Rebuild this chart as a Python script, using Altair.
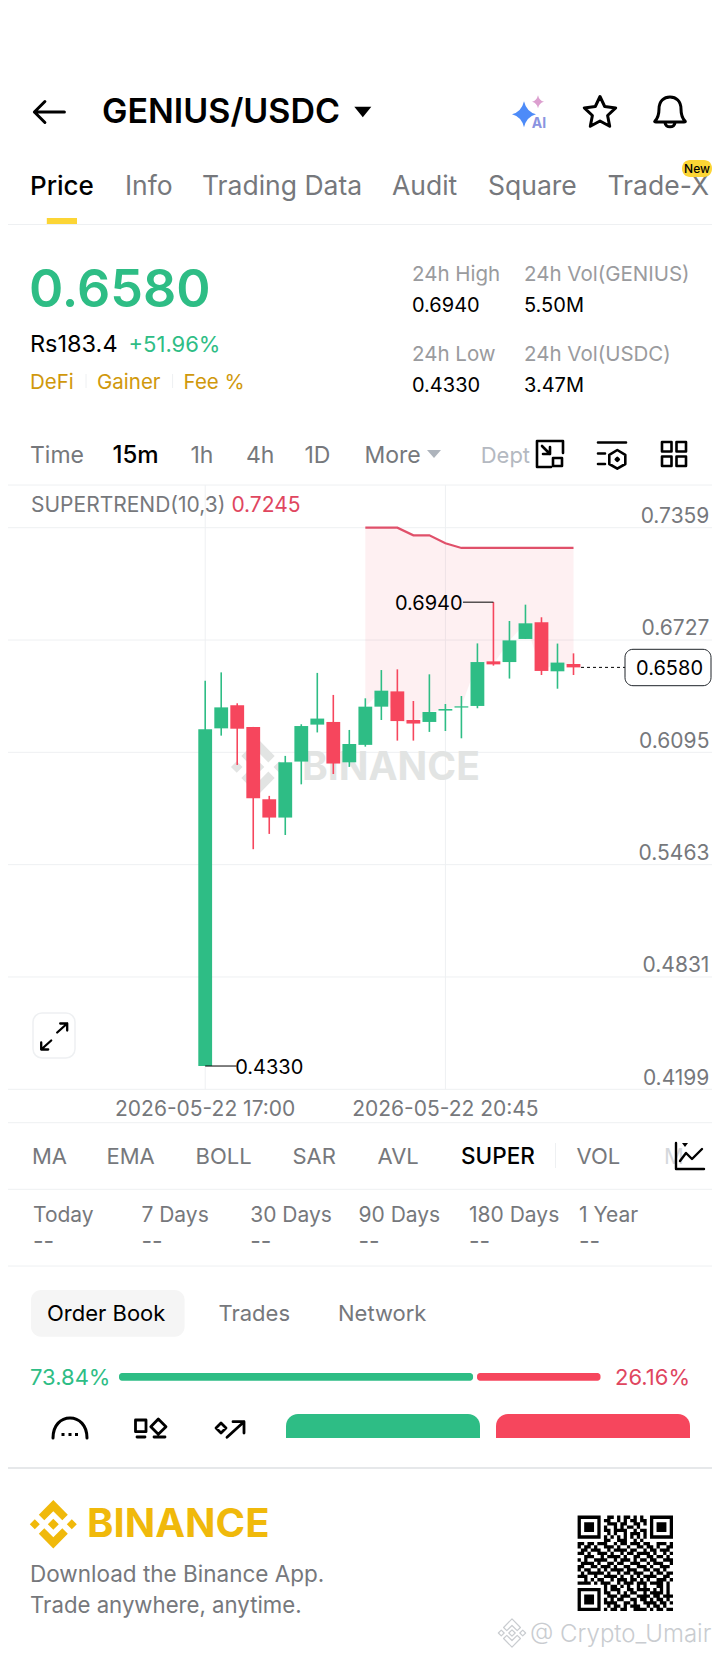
import altair as alt
import pandas as pd

# ---------- chart values ----------
open_ = [.4330,.6230,.6360,.6238,.5831,.5728,.6043,.6251,.6266,.6039,.6137,.6352,.6438,.6277,.6266,.6330,.6347,.6356,.6607,.6603,.6733,.6827,.6551,.6592]
high  = [.6498,.6545,.6371,.6238,.5850,.6075,.6253,.6542,.6418,.6221,.6399,.6558,.6562,.6384,.6534,.6367,.6412,.6708,.6940,.6834,.6926,.6855,.6707,.6652]
low   = [.4330,.6189,.6024,.5550,.5636,.5630,.5915,.6207,.5973,.6013,.6127,.6277,.6161,.6161,.6210,.6215,.6174,.6343,.6583,.6510,.6733,.6530,.6453,.6530]
close = [.6225,.6348,.6228,.5836,.5728,.6039,.6243,.6285,.6032,.6142,.6352,.6442,.6271,.6257,.6322,.6339,.6354,.6603,.6590,.6725,.6821,.6553,.6600,.6573]
supertrend = [.7359,.7359,.7359,.7316,.7316,.7271,.7245,.7245,.7245,.7245,.7245,.7245,.7245,.7245]
st_start = 10
price_ticks = [.7359,.6727,.6095,.5463,.4831,.4199]
high_label, low_label, last_label = 0.6940, 0.4330, "0.6580"
times = pd.date_range("2026-05-22 17:00", periods=24, freq="15min")
dated_candles = [0, 15]

tabs = ["Price","Info","Trading Data","Audit","Square","Trade-X"]
intervals = ["Time","15m","1h","4h","1D","More"]
indicators = ["MA","EMA","BOLL","SAR","AVL","SUPER","VOL"]
periods = ["Today","7 Days","30 Days","90 Days","180 Days","1 Year"]
book_tabs = ["Order Book","Trades","Network"]
buy_pct, sell_pct = 73.84, 26.16

qr_rows = [
"11111110011010110101001111111","10000010110010101101101000001","10111010011101100110101011101",
"10111010100101011010001011101","10111010110111100101101011101","10000010010100101110101000001",
"11111110101010101010101111111","00000000110011100101000000000","11011011100101101110110011101",
"10110100111010010011011010011","01101110010111101100101101110","11010011101001011011110100101",
"00111001011110100110011011010","10100111100101110101101100111","01111010011011001110010111001",
"11001101110100110011101001110","10110010101111011100110110100","01011111010010110111001011011",
"11100100111101001010111100110","00101011001011101101010011101","11110101110010111011101111010",
"00000000101101010010100011010","11111110101110011011110101010","10000010110010101100101111010",
"10111010011101110011110110111","10111010101011001101101011010","10111010111100110100111101101",
"10000010010110101110010110100","11111110101101100111101011011"]

# ---------- styles ----------
FONT = "Inter"
GREEN, RED = "#2ebd85", "#f6465d"
GREY, LIGHT, LINE = "#76787c", "#9a9b9e", "#eef0f2"
M = 8
W, H = 704, 1642

df = pd.DataFrame({"t": times, "open": open_, "high": high, "low": low, "close": close})
df["dir"] = ["up" if c >= o else "down" for o, c in zip(open_, close)]
st = df.iloc[st_start:].copy()
st["st"] = supertrend

xs = alt.Scale(domain=[times[0].isoformat(), times[-1].isoformat()], range=[205.2 - M, 573.5 - M])
ys = alt.Scale(domain=[.4199, .7359], range=[1089.3 - M, 527.7 - M], zero=False, nice=False)
cs = alt.Color("dir:N", scale=alt.Scale(domain=["up", "down"], range=[GREEN, RED]), legend=None)

layers = []
ONE = pd.DataFrame({"a": [0]})

def text(s, x, y, size=20, color="#000000", weight=400, align="left", opacity=1, font=FONT):
    layers.append(alt.Chart(ONE).mark_text(
        font=font, fontSize=size, color=color, fontWeight=weight, align=align,
        baseline="alphabetic", opacity=opacity
    ).encode(x=alt.value(x - M), y=alt.value(y - M), text=alt.value(s)))

def rect(x1, y1, x2, y2, fill, stroke=None, radius=0, top_only=False, sw=1):
    kw = {"fill": fill}
    if stroke:
        kw.update(stroke=stroke, strokeWidth=sw)
    if top_only:
        kw.update(cornerRadiusTopLeft=radius, cornerRadiusTopRight=radius)
    elif radius:
        kw.update(cornerRadius=radius)
    layers.append(alt.Chart(ONE).mark_rect(**kw).encode(
        x=alt.value(x1 - M), x2=alt.value(x2 - M), y=alt.value(y1 - M), y2=alt.value(y2 - M)))

def hline(y, color=LINE, sw=1, x1=M, x2=M + W):
    layers.append(alt.Chart(ONE).mark_rule(color=color, strokeWidth=sw).encode(
        x=alt.value(x1 - M), x2=alt.value(x2 - M), y=alt.value(y - M)))

def icon(path, cx, cy, fill=None, stroke=None, sw=2.5, scale=1.0):
    kw = dict(shape=path, size=(2 * scale) ** 2, opacity=1)
    if fill:
        kw.update(fill=fill, filled=True)
    else:
        kw.update(filled=False, fill="transparent")
    kw.update(stroke=stroke if stroke else "transparent", strokeWidth=sw if stroke else 0,
              strokeJoin="round", strokeCap="round")
    layers.append(alt.Chart(ONE).mark_point(**kw).encode(
        x=alt.value(cx - M), y=alt.value(cy - M)))

LOGO = ("M0 -24.3L14.5 -9.5L9 -4L0 -13L-9 -4L-14.5 -9.5Z"
        "M0 24.3L14.5 9.5L9 4L0 13L-9 4L-14.5 9.5Z"
        "M0 -5.5L5.5 0L0 5.5L-5.5 0Z"
        "M-18.5 -5L-13.5 0L-18.5 5L-23.5 0Z M18.5 -5L23.5 0L18.5 5L13.5 0Z")

# ---------- UI lines behind everything ----------
hline(224.5); hline(485); hline(1122.7); hline(1189.3); hline(1266)
hline(1468, "#e6e8ea", 2)

X = alt.X("t:T", scale=xs, axis=None)
Y = lambda f: alt.Y(f, scale=ys, axis=None, type="quantitative")

# ---------- price grid and tick labels ----------
ticks = pd.DataFrame({"p": price_ticks})
layers.append(alt.Chart(ticks).mark_rule(color=LINE, strokeWidth=1).encode(
    x=alt.value(0), x2=alt.value(W), y=Y("p")))
layers.append(alt.Chart(ticks).mark_text(font=FONT, fontSize=21, color=GREY, align="right",
                                         baseline="alphabetic", dy=-4.7).encode(
    x=alt.value(701.4), y=Y("p"), text=alt.Text("p:Q", format=".4f")))

# ---------- time grid and tick labels ----------
dated = df.iloc[dated_candles]
layers.append(alt.Chart(dated).mark_rule(color=LINE, strokeWidth=1).encode(
    x=X, y=alt.value(485 - M), y2=alt.value(1089.3 - M)))
layers.append(alt.Chart(dated).mark_text(font=FONT, fontSize=21, color=GREY, align="center",
                                         baseline="alphabetic").encode(
    x=X, y=alt.value(1116 - M), text=alt.Text("t:T", format="%Y-%m-%d %H:%M")))

# ---------- chart watermark ----------
text("BINANCE", 302, 780, size=39, color="#e2e4e3", weight=700)
icon(LOGO, 258, 767, fill="#e2e4e3", scale=1.15)

# ---------- candles and overlay ----------
base = alt.Chart(df)
layers.append(alt.Chart(st).mark_area(color=RED, opacity=0.08).encode(
    x=X, y=Y("st"), y2=alt.Y2("close")))
layers.append(alt.Chart(st).mark_line(color="#e0506a", strokeWidth=2.2).encode(x=X, y=Y("st")))

layers.append(base.mark_rule(strokeWidth=1.6).encode(
    x=X, y=Y("low"), y2=alt.Y2("high"), color=cs))
layers.append(base.mark_rule(strokeWidth=13.8).encode(
    x=X, y=Y("open"), y2=alt.Y2("close"), color=cs))

# high / low callouts
hi = pd.DataFrame({"t": [times[18]], "p": [high_label]})
lo = pd.DataFrame({"t": [times[0]], "p": [low_label]})
layers.append(alt.Chart(hi).mark_rule(color="#000000", strokeWidth=1).encode(
    x=X, x2=alt.value(463 - M), y=Y("p")))
layers.append(alt.Chart(lo).mark_rule(color="#000000", strokeWidth=1).encode(
    x=X, x2=alt.value(236.5 - M), y=Y("p")))
layers.append(alt.Chart(hi).mark_text(font=FONT, fontSize=20, align="right", baseline="alphabetic",
                                      dx=-30.8, dy=7.5, color="#000000").encode(
    x=X, y=Y("p"), text=alt.Text("p:Q", format=".4f")))
layers.append(alt.Chart(lo).mark_text(font=FONT, fontSize=20, align="left", baseline="alphabetic",
                                      dx=30, dy=8.3, color="#000000").encode(
    x=X, y=Y("p"), text=alt.Text("p:Q", format=".4f")))

# last price
last = df.iloc[[-1]]
layers.append(alt.Chart(last).mark_rule(color="#000000", strokeWidth=1, strokeDash=[3, 3]).encode(
    x=alt.value(581 - M), x2=alt.value(625 - M), y=Y("close")))
rect(625, 649.3, 711, 685.7, "#ffffff", "#1e2329", radius=8)
text(last_label, 703, 675, align="right")

text("SUPERTREND(10,3)", 31, 511.7, size=21, color=GREY)
text(f"{supertrend[-1]:.4f}", 231.4, 511.7, size=21, color="#e0465f")

# expand button
rect(33, 1013, 75, 1058, "#ffffff", "#eef0f2", radius=9, sw=1.5)
icon("M3 -4L13 -13M6 -13H13V-6M-3 4L-13 13M-13 6V13H-6", 54.2, 1036.5, stroke="#000000", sw=2.3)

# ---------- header ----------
icon("M15 0H-15M-4.5 -10.5L-15 0L-4.5 10.5", 49.4, 112, stroke="#000000", sw=3)
text("GENIUS/USDC", 102, 123, size=34, weight=600)
icon("M-8.5 -5.3H8.5L0 5.3Z", 362.8, 112, fill="#000000")
icon("M0 -13Q2.5 -2.5 12 0Q2.5 2.5 0 13Q-2.5 2.5 -12 0Q-2.5 -2.5 0 -13Z", 524, 114.3, fill="#4d8bf8")
icon("M0 -6.5Q1.2 -1.2 6 0Q1.2 1.2 0 6.5Q-1.2 1.2 -6 0Q-1.2 -1.2 0 -6.5Z", 538, 101.7, fill="#dc9fcf")
text("AI", 539, 127.5, size=14, color="#8a93e0", weight=700, align="center")
icon("M0 -16.5L4.7 -6.5L15.7 -5.1L7.6 2.5L9.7 13.3L0 8L-9.7 13.3L-7.6 2.5L-15.7 -5.1L-4.7 -6.5Z",
     600, 113, stroke="#000000", sw=3)
icon("M-15 9C-12 6 -11 3 -11 -3C-11 -11 -6 -15 0 -15C6 -15 11 -11 11 -3C11 3 12 6 15 9Q16 10 14 10H-14Q-16 10 -15 9ZM-5 11C-4 16 4 16 5 11",
     670, 112, stroke="#000000", sw=3)

for s, x in zip(tabs, [30, 125, 202, 392, 488, 607.5]):
    text(s, x, 195, size=26 if s == "Price" else 26.5, color="#000000" if s == "Price" else GREY,
         weight=500 if s == "Price" else 400)
rect(46.8, 218, 77, 224, "#fcd535")
rect(682, 160, 712, 177, "#fcd535", radius=8)
text("New", 697, 173, size=12, weight=500, align="center")

# ---------- price block ----------
text("0.6580", 29, 307, size=52, color=GREEN, weight=600)
text("Rs183.4", 30, 352, size=23.5)
text("+51.96%", 128.5, 352, size=22, color=GREEN)
for s, x in zip(["DeFi", "Gainer", "Fee %"], [30, 97, 183.6]):
    text(s, x, 389, size=20.5, color="#d0980b")
for x in (86, 172.6):
    layers.append(alt.Chart(ONE).mark_rule(color="#eef0f2", strokeWidth=1).encode(
        x=alt.value(x - M), y=alt.value(374 - M), y2=alt.value(388 - M)))

for (lab, val, x) in [("24h High", "0.6940", 412), ("24h Vol(GENIUS)", "5.50M", 524)]:
    text(lab, x, 280.7, size=20.5, color=LIGHT); text(val, x, 311.7)
for (lab, val, x) in [("24h Low", "0.4330", 412), ("24h Vol(USDC)", "3.47M", 524)]:
    text(lab, x, 360.7, size=20.5, color=LIGHT); text(val, x, 391.7)

# ---------- interval row ----------
for s, x in zip(intervals, [30, 112.5, 190.5, 246, 304.5, 364.5]):
    text(s, x, 463, size=24 if s == "15m" else 23, color="#000000" if s == "15m" else GREY,
         weight=500 if s == "15m" else 400)
icon("M-7 -4H7L0 4Z", 434, 454, fill="#aeb4bc")
text("Dept", 480.7, 463, size=22, color="#b4b9c1")
icon("M1 13H-13V-13H13V-1M3 4H12V12H3ZM-8 -8L0 0M-7 0H0V-7", 550, 454, stroke="#000000", sw=2.6)
icon("M-14 -11.5H14M-14 -0.5H-7M-14 10H-7M5.3 -4L13.3 0.8V10L5.3 14.6L-2.7 10V0.8ZM5.3 3.8L6.8 5.3L5.3 6.8L3.8 5.3Z",
     612, 454, stroke="#000000", sw=2.6)
icon("M-12 -12H-2.5V-2.5H-12ZM2.5 -12H12V-2.5H2.5ZM-12 2.5H-2.5V12H-12ZM2.5 2.5H12V12H2.5Z",
     674, 454, stroke="#000000", sw=2.6)

# ---------- indicator row ----------
for s, x in zip(indicators, [32, 106.5, 195.5, 292.5, 377.5, 461, 576.5]):
    text(s, x, 1164, size=22.5 if s == "SUPER" else 22, color="#000000" if s == "SUPER" else GREY,
         weight=500 if s == "SUPER" else 400)
text("M", 664, 1164, size=22, color="#d5d8dc")
layers.append(alt.Chart(ONE).mark_rule(color="#eef0f2", strokeWidth=1).encode(
    x=alt.value(555.5 - M), y=alt.value(1143 - M), y2=alt.value(1168 - M)))
icon("M-14 -13V13H14M-10 5L-4 -3L2 3L12 -7", 690, 1156, stroke="#000000", sw=2.4)
icon("M-8 -13H-2L-5 -9Z", 690, 1156, fill="#000000")

for s, x in zip(periods, [33, 141.4, 250.2, 358.5, 469, 579]):
    text(s, x, 1222, size=21, color=GREY)
    text("--", x, 1249, size=23, color=GREY)

# ---------- order book ----------
rect(31, 1290, 184.6, 1336.7, "#f5f5f5", radius=10)
for s, x in zip(book_tabs, [47, 218.5, 338]):
    text(s, x, 1321, size=22, color="#000000" if s == "Order Book" else GREY)
text(f"{buy_pct:.2f}%", 30, 1385, size=22, color=GREEN)
text(f"{sell_pct:.2f}%", 690, 1385, size=22, color="#e0465f", align="right")
bar_x0, bar_x1 = 119, 600.5
split = bar_x0 + (bar_x1 - bar_x0) * buy_pct / 100
rect(bar_x0, 1373, split - 1.5, 1380.7, GREEN, radius=3)
rect(split + 2.5, 1373, bar_x1, 1380.7, RED, radius=3)
rect(286, 1414, 480, 1438, GREEN, radius=16, top_only=True)
rect(496, 1414, 690, 1438, RED, radius=16, top_only=True)
icon("M-17 10C-17 -3 -9 -10 0 -10C9 -10 17 -3 17 10", 70, 1428, stroke="#000000", sw=3)
icon("M-8.5 5h3v3h-3zM-1.5 5h3v3h-3zM5 5h3v3h-3z", 70, 1428, fill="#000000")
icon("M-14.5 -8H-4V3.7H-14.5ZM8.3 -9L16 -1.3L8.3 6.3L0.8 -1.3ZM-13 9H-5M4 9H15", 150, 1428, stroke="#000000", sw=2.8)
icon("M-11 -5L-6 0L-11 5L-16 0ZM-5 9.3L12 -6.3M1 -6.3H12V5", 232, 1428, stroke="#000000", sw=2.8)

# ---------- footer ----------
icon(LOGO, 53.3, 1524.3, fill="#f0b90b")
text("BINANCE", 87, 1537, size=40, color="#f0b90b", weight=700)
text("Download the Binance App.", 30, 1581.7, size=22.5, color=GREY)
text("Trade anywhere, anytime.", 30, 1613, size=22.2, color=GREY)

cell = 95.4 / len(qr_rows)
half = 95.4 / 2
qr_path = "".join(
    f"M{c * cell - half:.2f} {r * cell - half:.2f}h{cell:.2f}v{cell:.2f}h{-cell:.2f}z"
    for r, row in enumerate(qr_rows) for c, v in enumerate(row) if v == "1")
icon(qr_path, 625.3, 1563.3, fill="#000000")

icon(LOGO, 512, 1633, stroke="#c9ccd0", sw=1.2, scale=0.58)
text("@ Crypto_Umair", 530, 1641.7, size=24, color="#c9ccd0", weight=300)

chart = alt.layer(*layers).properties(
    width=W, height=H, padding=0, autosize=alt.AutoSizeParams(type="none"), background="#ffffff"
).configure_view(stroke=None)

chart.save("out.html", embed_options={"renderer": "svg", "actions": False})
